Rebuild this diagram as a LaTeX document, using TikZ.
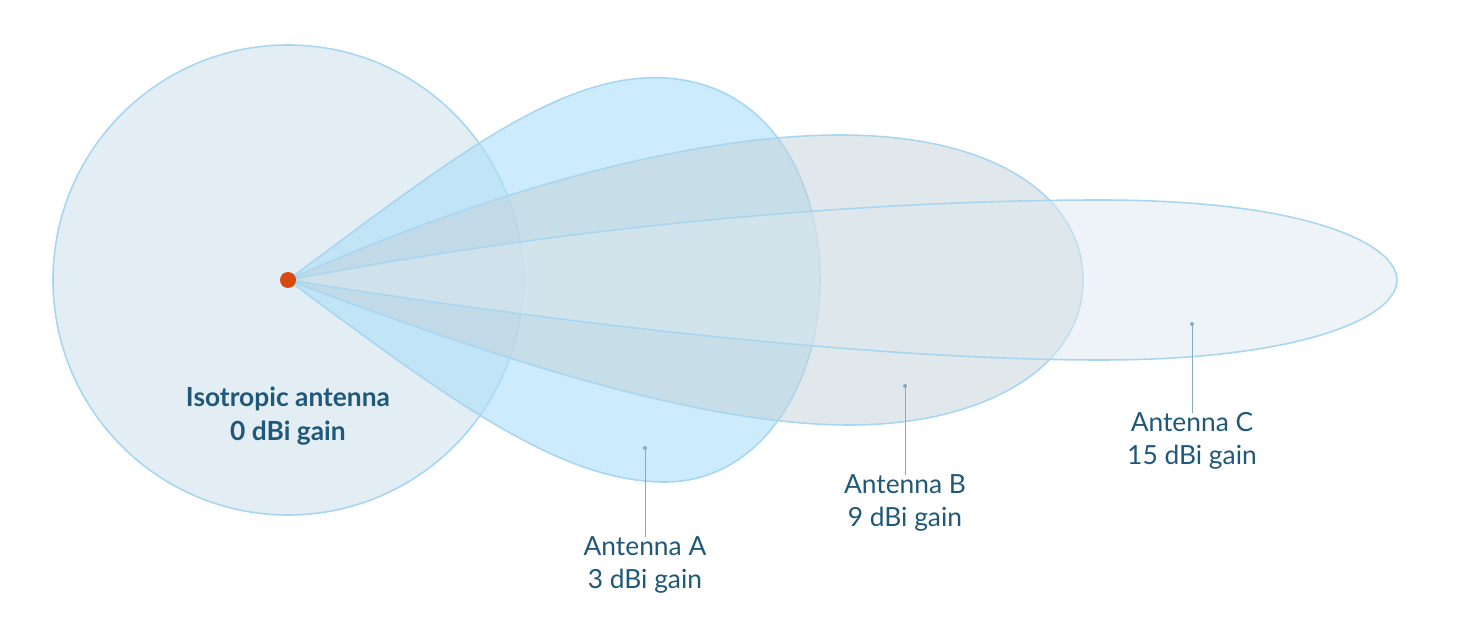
\documentclass[tikz,border=0pt]{standalone}
\usepackage{fontspec}
\setmainfont{Lato}
\definecolor{lobeline}{HTML}{A8D6F0}
\definecolor{isofill}{HTML}{E3EEF4}
\definecolor{afill}{HTML}{B0E0FA}
\definecolor{bfill}{HTML}{C3D2D8}
\definecolor{cfill}{HTML}{DCE8EE}
\definecolor{labeltext}{HTML}{1F5878}
\definecolor{feed}{HTML}{D9480F}
\tikzset{
  lobe/.style={draw=lobeline, line width=0.9pt, fill opacity=0.6},
  marker/.style={draw=lobeline!80!black, line width=0.5pt},
  gainlabel/.style={text=labeltext, align=center, font=\fontsize{15}{19}\selectfont}
}
\begin{document}
\begin{tikzpicture}[x=0.02cm,y=-0.02cm]
	\useasboundingbox (0,0) rectangle (1458,628);
	\coordinate (o) at (288,280);
	
	% isotropic pattern
	\draw[lobe, fill=isofill, fill opacity=1] (o) circle[radius=235];
	
	% antenna A
	\draw[lobe, fill=afill, fill opacity=0.65] (o) .. controls (450,160) and (560,72) .. (665,78)
		.. controls (770,84) and (820,180) .. (820,280)
		.. controls (820,385) and (760,482) .. (665,482)
		.. controls (560,482) and (450,400) .. (o);
	
	% antenna B
	\draw[lobe, fill=bfill, fill opacity=0.5] (o) .. controls (500,185) and (700,135) .. (840,135)
		.. controls (1000,135) and (1083,200) .. (1083,280)
		.. controls (1083,370) and (980,425) .. (850,425)
		.. controls (700,425) and (500,360) .. (o);
	
	% antenna C
	\draw[lobe, fill=cfill, fill opacity=0.5] (o) .. controls (600,220) and (900,200) .. (1100,200)
		.. controls (1310,200) and (1397,245) .. (1397,280)
		.. controls (1397,318) and (1300,360) .. (1100,360)
		.. controls (900,360) and (600,330) .. (o);
	
	\fill[feed] (o) circle[radius=8];
	
	\node[gainlabel, font=\fontsize{15}{19}\selectfont\bfseries] (iso) at (288,416) {Isotropic antenna\\0 dBi gain};
	
	\coordinate (pa) at (645,448);
	\coordinate (pb) at (905,386);
	\coordinate (pc) at (1192,324);
	\node[gainlabel] (la) at (645,565) {Antenna A\\3 dBi gain};
	\node[gainlabel] (lb) at (905,503) {Antenna B\\9 dBi gain};
	\node[gainlabel] (lc) at (1192,441) {Antenna C\\15 dBi gain};
	
	\foreach \p/\l in {pa/la, pb/lb, pc/lc} {
		\draw[marker] (\p) -- ([yshift=-4pt]\l.north);
		\fill[lobeline!80!black] (\p) circle[radius=2];
	}
\end{tikzpicture}
\end{document}
